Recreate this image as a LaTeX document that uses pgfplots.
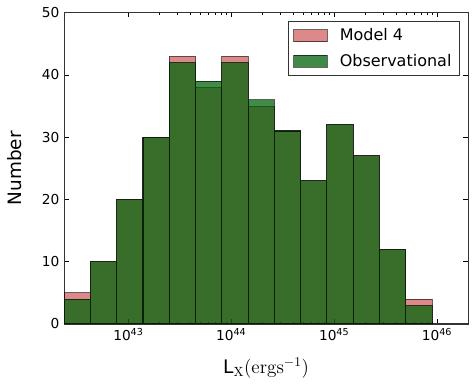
\documentclass[border=0pt]{standalone}
\usepackage[no-math]{fontspec}
\setmainfont{DejaVu Sans}
\usepackage{pgfplots}
\pgfplotsset{compat=1.18}
\definecolor{redc}{RGB}{190,20,20}
\definecolor{greenc}{RGB}{0,100,10}
\begin{document}
\begin{tikzpicture}
\begin{axis}[
  name=ax,
  scale only axis,
  width=303pt, height=233.5pt,
  xmode=log,
  xmin=2.366e42, xmax=2.0e46,
  ymin=0, ymax=50,
  ytick={0,10,20,30,40,50},
  xtick={1e43,1e44,1e45,1e46},
  xticklabels={10\textsuperscript{43},10\textsuperscript{44},10\textsuperscript{45},10\textsuperscript{46}},
  tick align=inside,
  xtick pos=both, ytick pos=both,
  major tick length=3.5pt, minor tick length=1.8pt,
  tick style={black, line width=0.5pt},
  axis line style={black!80, line width=0.8pt},
  /pgf/number format/assume math mode=true,
  tick label style={font=\fontsize{10.3}{12}\selectfont, black},
  xlabel={L$_{\mathrm{X}}(\mathrm{ergs}^{-1})$},
  ylabel={Number},
  xlabel style={font=\fontsize{14}{16}\selectfont, at={(axis description cs:0.5,-0.141)}, anchor=center},
  ylabel style={font=\fontsize{13.8}{16}\selectfont, at={(axis description cs:-0.122,0.5)}, anchor=center},
  legend style={at={(0.98,0.974)}, anchor=north east, draw=black!80, line width=0.8pt,
     font=\fontsize{12}{14}\selectfont, inner xsep=4pt, inner ysep=3.5pt, row sep=4.5pt},
  legend cell align=left,
  legend image code/.code={\draw[#1, line width=0.6pt] (0pt,-4.5pt) rectangle (25pt,4.5pt); \path (32pt,0pt);},
]
\addplot[ybar interval, fill=redc, fill opacity=0.5, draw=black, draw opacity=0.6, line width=0.8pt] coordinates {
  (2.366e42,5) (4.266e42,10) (7.674e42,20) (1.384e43,30) (2.489e43,43) (4.487e43,38) (8.072e43,43)
  (1.455e44,35) (2.618e44,31) (4.721e44,23) (8.492e44,32) (1.531e45,27) (2.754e45,12) (4.966e45,4) (8.933e45,4)
};
\addlegendentry{Model 4}
\addplot[ybar interval, fill=greenc, fill opacity=0.75, draw=black, draw opacity=0.6, line width=0.8pt] coordinates {
  (2.366e42,4) (4.266e42,10) (7.674e42,20) (1.384e43,30) (2.489e43,42) (4.487e43,39) (8.072e43,42)
  (1.455e44,36) (2.618e44,31) (4.721e44,23) (8.492e44,32) (1.531e45,27) (2.754e45,12) (4.966e45,3) (8.933e45,3)
};
\addlegendentry{Observational}
\end{axis}
\pgfresetboundingbox
\path[use as bounding box] ([xshift=-48pt,yshift=-46.5pt]ax.south west) rectangle ([xshift=4.5pt,yshift=9.5pt]ax.north east);
\end{tikzpicture}
\end{document}
